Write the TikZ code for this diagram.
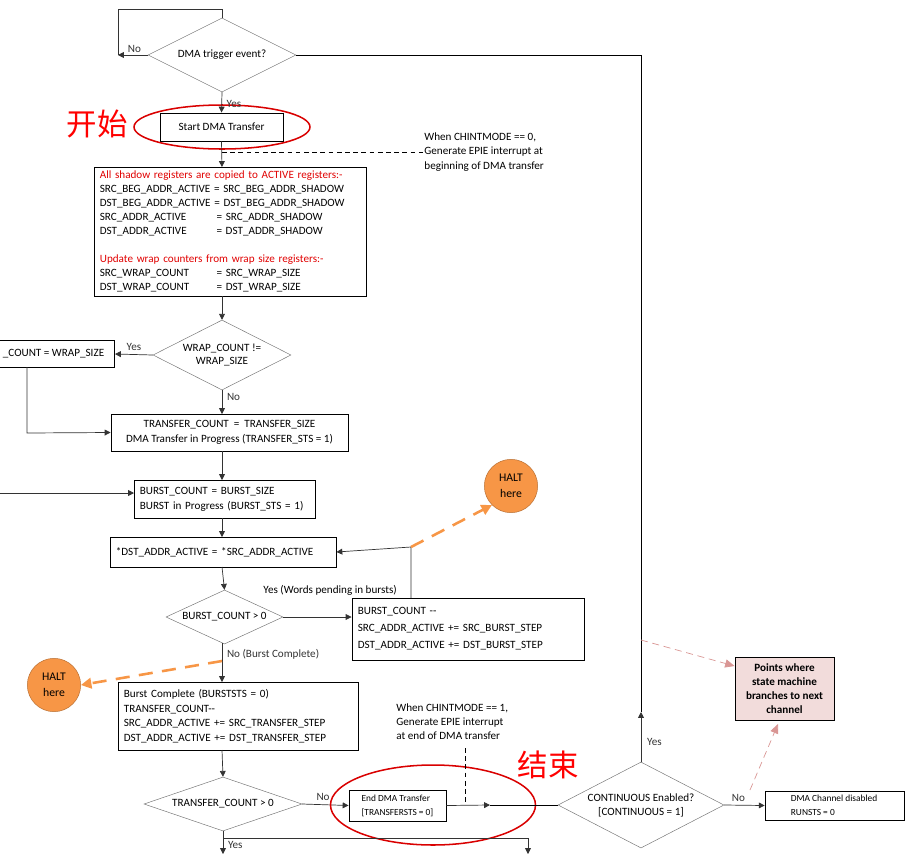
\documentclass[tikz,border=0pt]{standalone}
\usepackage{fontspec}
\setmainfont{Carlito}
\newfontfamily\cjk{Noto Sans CJK SC}
\usetikzlibrary{shapes.geometric, arrows.meta}
\definecolor{haltfill}{HTML}{F79646}
\definecolor{haltdraw}{HTML}{B66D31}
\definecolor{pinkfill}{HTML}{F2DCDB}
\definecolor{pinkline}{HTML}{D99694}
\definecolor{redtxt}{HTML}{E00000}
\tikzset{
  box/.style={rectangle, draw=black, thick, inner sep=0pt, font=\fontsize{9.5}{11.9}\selectfont},
  lbox/.style={box, align=left, inner xsep=5pt},
  decision/.style={diamond, draw=black!55, thin, inner sep=0pt, align=center, font=\fontsize{9.5}{11.9}\selectfont},
  arrow/.style={-{Triangle[length=5pt,width=5pt]}, black!80, semithick},
  lab/.style={font=\fontsize{9.5}{11.9}\selectfont, inner sep=1pt},
  halt/.style={circle, draw=haltdraw, fill=haltfill, minimum size=1.6cm, inner sep=0pt, align=center, font=\fontsize{10}{13.6}\selectfont},
  haltarrow/.style={-{Triangle[length=9pt,width=9pt]}, haltfill, line width=2.2pt, dash pattern=on 12pt off 8pt},
  pinkarrow/.style={-{Triangle[length=8pt,width=7pt]}, pinkline, semithick, dash pattern=on 6pt off 4pt},
  redell/.style={ellipse, draw=red!85!black, line width=1.3pt},
}
\begin{document}
\begin{tikzpicture}[x=0.03cm, y=-0.03cm]
\useasboundingbox (0,0) rectangle (912,854);

% trigger
\node (trig) [decision, minimum width=148*0.03cm, minimum height=74*0.03cm, aspect=2] at (222,55) {DMA trigger event?};
\coordinate (loopl) at (118,55);
\draw [arrow] (trig.west) -- node[lab, above=1pt, pos=0.45] {No} (loopl);
\draw [black!80, semithick] (trig.north) -- (222,9) -- (118,9) -- (loopl);

% start
\node (start) [box, minimum width=123*0.03cm, minimum height=28*0.03cm] at (221.5,127) {Start DMA Transfer};
\node [redell, minimum width=176*0.03cm, minimum height=44*0.03cm] (ell1) at (222,127) {};
\node (kaishi) [text=red, font=\cjk\fontsize{26}{26}\selectfont] at (97,124) {开始};
\draw [arrow] (trig.south) -- node[lab, right=3pt, pos=0.6] {Yes} (start.north);

% note 0
\node (note0) [lab, align=left, anchor=west, font=\fontsize{9.5}{12.3}\selectfont] at (423,152) {When CHINTMODE == 0,\\Generate EPIE interrupt at\\beginning of DMA transfer};
\coordinate (d0) at (222,152);
\draw [thick, dash pattern=on 4pt off 3pt] (d0) -- (note0.west);

% copy box
\node (copy) [lbox, minimum width=272*0.03cm, minimum height=129*0.03cm, text width=272*0.03cm-10pt] at (230,231.5)
{\textcolor{redtxt}{All shadow registers are copied to ACTIVE registers:-}\\
SRC\_BEG\_ADDR\_ACTIVE = SRC\_BEG\_ADDR\_SHADOW\\
DST\_BEG\_ADDR\_ACTIVE = DST\_BEG\_ADDR\_SHADOW\\
\makebox[3.5cm][l]{SRC\_ADDR\_ACTIVE}= SRC\_ADDR\_SHADOW\\
\makebox[3.5cm][l]{DST\_ADDR\_ACTIVE}= DST\_ADDR\_SHADOW\\[11.9pt]
\textcolor{redtxt}{Update wrap counters from wrap size registers:-}\\
\makebox[3.5cm][l]{SRC\_WRAP\_COUNT}= SRC\_WRAP\_SIZE\\
\makebox[3.5cm][l]{DST\_WRAP\_COUNT}= DST\_WRAP\_SIZE};
\draw [arrow] (start.south) -- (222,167);

% wrap decision
\node (wrap) [decision, minimum width=138*0.03cm, minimum height=70*0.03cm, aspect=2] at (222,355) {WRAP\_COUNT !=\\WRAP\_SIZE};
\draw [arrow] (222,296) -- (wrap.north);
\node (wbox) [box, minimum width=122*0.03cm, minimum height=27*0.03cm, anchor=east] at (115,354) {\_COUNT = WRAP\_SIZE};
\draw [arrow] (wrap.west) -- node[lab, above=2pt] {Yes} (wbox.east);

% transfer count box
\node (tbox) [box, align=center, minimum width=237*0.03cm, minimum height=37*0.03cm, font=\fontsize{9.5}{13}\selectfont] at (229.5,432.5) {TRANSFER\_COUNT\ \ =\ \ TRANSFER\_SIZE\\DMA Transfer in Progress (TRANSFER\_STS = 1)};
\draw [arrow] (wrap.south) -- node[lab, right=3pt, pos=0.3] {No} (222,414);
\draw [arrow] (27,367) -- (27,433) -- (tbox.west);

% burst box
\node (bbox) [lbox, minimum width=181*0.03cm, minimum height=38*0.03cm, text width=181*0.03cm-10pt, font=\fontsize{9.5}{13}\selectfont] at (224.5,499) {BURST\_COUNT = BURST\_SIZE\\BURST in Progress (BURST\_STS = 1)};
\draw [arrow] (222,451) -- (222,480);
\coordinate (bin) at (0,493);
\draw [arrow] (bin) -- (134,493);

% copy word
\node (dst) [lbox, minimum width=226*0.03cm, minimum height=30*0.03cm, text width=226*0.03cm-10pt] at (223,552) {*DST\_ADDR\_ACTIVE = *SRC\_ADDR\_ACTIVE};
\draw [arrow] (222,518) -- (222,537);

% burst decision
\node (bdec) [decision, minimum width=117*0.03cm, minimum height=54*0.03cm, aspect=2] at (224.5,617) {BURST\_COUNT > 0};
\draw [arrow] (222,567) -- (bdec.north);

\node (bdecr) [lbox, minimum width=232*0.03cm, minimum height=62*0.03cm, text width=232*0.03cm-10pt, font=\fontsize{9.5}{14.5}\selectfont] at (468,629) {BURST\_COUNT -{}-\\SRC\_ADDR\_ACTIVE += SRC\_BURST\_STEP\\DST\_ADDR\_ACTIVE += DST\_BURST\_STEP};
\draw [arrow] (bdec.east) -- (bdecr.west |- bdec.east);
\coordinate (bj) at (411,547);
\draw [arrow] (411,598) -- (bj) -- (dst.east);
\node [lab, anchor=south west] at (262,597) {Yes (Words pending in bursts)};

\node (halt1) [halt] at (511,486) {HALT\\here};
\draw [haltarrow] (bj) -- (halt1.south west);

% burst complete
\node (bc) [lbox, minimum width=240*0.03cm, minimum height=68*0.03cm, text width=240*0.03cm-10pt, font=\fontsize{9.5}{12.4}\selectfont] at (238,716) {Burst Complete (BURSTSTS = 0)\\TRANSFER\_COUNT-{}-\\SRC\_ADDR\_ACTIVE += SRC\_TRANSFER\_STEP\\DST\_ADDR\_ACTIVE += DST\_TRANSFER\_STEP};
\draw [arrow] (222,643) -- node[lab, right=3pt, pos=0.3] {No (Burst Complete)} (222,682);
\node (halt2) [halt] at (54,685) {HALT\\here};
\coordinate (hj) at (222,661);
\draw [haltarrow] (hj) -- (halt2.east);

% transfer decision
\node (tdec) [decision, minimum width=158*0.03cm, minimum height=54*0.03cm, aspect=2.9] at (223,804) {TRANSFER\_COUNT > 0};
\draw [arrow] (222,750) -- (tdec.north);

\node (endb) [box, align=left, minimum width=97*0.03cm, minimum height=31*0.03cm, font=\fontsize{8}{12}\selectfont] at (397.5,805.5) {End DMA Transfer\\{[}TRANSFERSTS = 0{]}};
\draw [arrow] (tdec.east) -- node[lab, above=2pt, pos=0.45] {No} (endb.west);
\node [redell, minimum width=205*0.03cm, minimum height=80*0.03cm] (ell2) at (433,805) {};
\node (jieshu) [text=red, font=\cjk\fontsize{26}{26}\selectfont] at (548,765) {结束};

\node (note1) [lab, align=left, anchor=north west, font=\fontsize{9.5}{12.3}\selectfont] at (395,702) {When CHINTMODE == 1,\\Generate EPIE interrupt\\at end of DMA transfer};
\coordinate (d1a) at (465,748);
\coordinate (d1b) at (465,805);
\draw [thick, dash pattern=on 4pt off 3pt] (d1a) -- (d1b);

% continuous
\node (cont) [decision, minimum width=166*0.03cm, minimum height=86*0.03cm, aspect=1.9] at (641,805) {CONTINUOUS Enabled?\\{[}CONTINUOUS = 1{]}};
\coordinate (cj) at (490,805);
\draw [arrow] (endb.east) -- (cj);
\draw [thick] (cj) -- (cont.west);
\coordinate (up) at (641,712);
\draw [arrow] (cont.north) -- node[lab, right=4pt, pos=0.4] {Yes} (up);
\draw [semithick] (up) -- (641,55) -- (trig.east);

\node (dis) [box, semithick, align=left, minimum width=139*0.03cm, minimum height=29*0.03cm, font=\fontsize{8}{12}\selectfont] at (834.5,805.5) {DMA Channel disabled\\RUNSTS = 0\hspace*{1.3cm}};
\draw [arrow] (cont.east) -- node[lab, above=2pt, pos=0.35] {No} (dis.west);

% points box
\node (pts) [box, fill=pinkfill, align=center, minimum width=99*0.03cm, minimum height=63*0.03cm, font=\bfseries\fontsize{9.5}{11.9}\selectfont] at (784.5,688.5) {Points where\\state machine\\branches to next\\channel};
\coordinate (p1) at (641,640);
\coordinate (p2) at (750,790);
\draw [pinkarrow] (p1) -- (pts.west |- 0,666);
\draw [pinkarrow] (p2) -- (778,724);

% bottom
\draw [arrow] (tdec.south) -- node[lab, right=3pt, pos=0.6] {Yes} (223,854);
\draw [thick, black!80] (223,838) -- (528,838);
\draw [arrow] (528,838) -- (528,854);
\end{tikzpicture}
\end{document}
